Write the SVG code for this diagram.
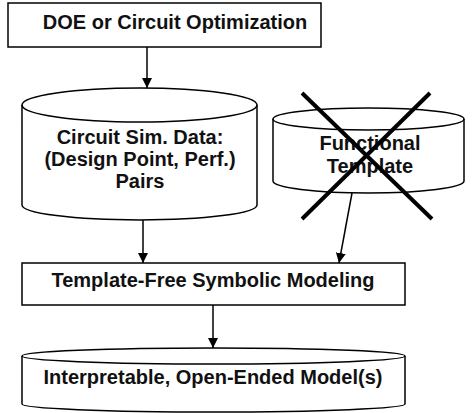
<svg xmlns="http://www.w3.org/2000/svg" width="474" height="413" viewBox="0 0 474 413">
<defs>
<marker id="ah" viewBox="0 0 10 10" refX="10" refY="5" markerWidth="10" markerHeight="10" markerUnits="userSpaceOnUse" orient="auto">
<path d="M0,0 L10,5 L0,10 Z" fill="#000"/>
</marker>
<style>
.sh{fill:#fff;stroke:#000;stroke-width:1.5}
.t{font-family:"Liberation Sans",Arial,sans-serif;font-weight:bold;font-size:20px;text-anchor:middle;fill:#111}
.c{stroke:#000;stroke-width:1.5;fill:none}
.x{stroke:#000;stroke-width:4;stroke-linecap:butt}
</style>
</defs>
<rect width="474" height="413" fill="#fff"/>
<g id="doe">
<rect class="sh" x="8" y="3" width="313" height="44"/>
<text class="t" x="175" y="29">DOE or Circuit Optimization</text>
</g>
<g id="simdata">
<path class="sh" d="M22,105 A117.5,17 0 0 1 257,105 L257,205 A117.5,15 0 0 1 22,205 Z"/>
<path class="c" d="M22,105 A117.5,17 0 0 0 257,105"/>
<text class="t" x="140" y="144">Circuit Sim. Data:</text>
<text class="t" x="140" y="166">(Design Point, Perf.)</text>
<text class="t" x="140" y="188">Pairs</text>
</g>
<g id="template">
<path class="sh" d="M273,119 A95.5,11 0 0 1 464,119 L464,181 A95.5,12 0 0 1 273,181 Z"/>
<path class="c" d="M273,119 A95.5,11 0 0 0 464,119"/>
<text class="t" x="370" y="150">Functional</text>
<text class="t" x="370" y="173">Template</text>
<line class="x" x1="302" y1="93" x2="432" y2="219"/>
<line class="x" x1="430" y1="93" x2="302" y2="219"/>
</g>
<g id="symbolic">
<rect class="sh" x="22" y="263" width="383" height="42"/>
<text class="t" x="213" y="287">Template-Free Symbolic Modeling</text>
</g>
<g id="model">
<path class="sh" d="M22,356 A191.5,8 0 0 1 405,356 L405,404 A191.5,8 0 0 1 22,404 Z"/>
<path class="c" d="M22,356 A191.5,8 0 0 0 405,356"/>
<text class="t" x="213" y="384">Interpretable, Open-Ended Model(s)</text>
</g>
<g id="connectors">
<line class="c" x1="147" y1="47" x2="147" y2="88" marker-end="url(#ah)"/>
<line class="c" x1="143" y1="220" x2="143" y2="263" marker-end="url(#ah)"/>
<line class="c" x1="352" y1="193" x2="339" y2="263" marker-end="url(#ah)"/>
<line class="c" x1="213" y1="305" x2="213" y2="348" marker-end="url(#ah)"/>
</g>
</svg>
